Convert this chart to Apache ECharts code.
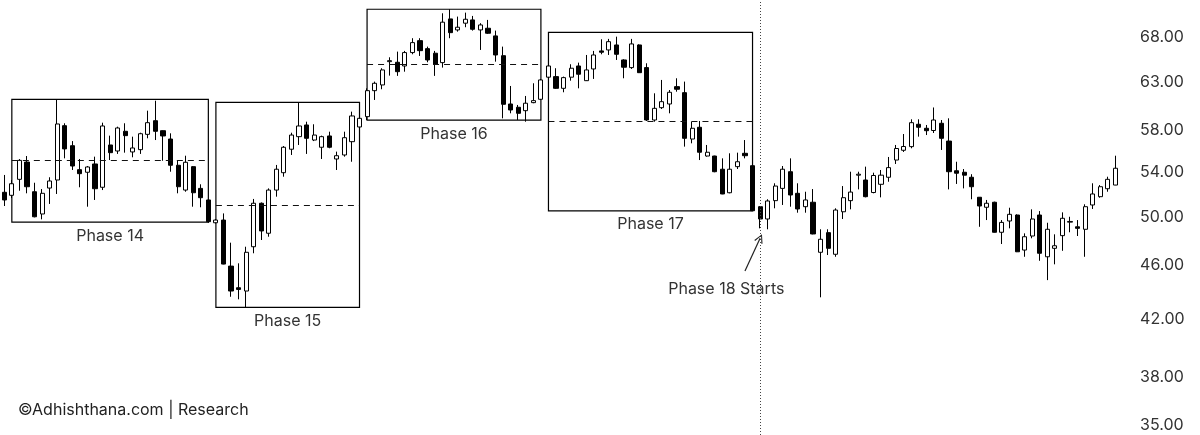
<!DOCTYPE html>
<html><head><meta charset="utf-8">
<script src="https://cdn.jsdelivr.net/npm/echarts@6/dist/echarts.min.js"></script>
<style>html,body{margin:0;padding:0;background:#fff}#c{width:1200px;height:435px}</style>
</head><body><div id="c"></div>
<script>
// OHLC values (one entry per trading session)
const opens = [
52.15,51.88,53.32,54.92,52.20,50.25,52.53,53.26,58.45,56.48,
54.21,53.97,54.74,52.60,56.55,55.97,57.89,55.88,56.10,57.59,
58.95,57.95,57.13,54.62,52.35,54.49,52.50,51.47,49.50,49.73,
45.96,44.29,44.04,47.51,51.18,48.62,52.35,53.93,56.14,57.36,
58.52,57.03,56.33,57.43,55.21,55.59,56.87,58.32,59.36,62.06,
62.67,65.22,65.15,64.74,66.24,67.61,66.69,66.17,65.11,70.17,
68.86,69.66,70.05,68.86,69.06,68.16,65.89,60.66,60.32,59.97,
60.80,61.15,63.51,63.57,62.31,63.51,64.74,63.13,64.41,66.43,
66.54,67.11,65.41,64.56,67.11,64.56,59.02,60.28,60.66,62.49,
61.85,57.13,58.29,55.49,55.49,54.25,52.11,54.49,55.75,54.58,
50.88,49.82,51.41,52.50,54.02,52.06,50.88,51.27,47.06,48.67,
46.90,50.44,51.41,53.70,53.26,52.13,52.87,53.51,55.11,56.04,
56.39,58.59,58.19,57.97,58.69,56.93,54.11,53.97,53.51,51.71,
50.83,51.27,48.70,49.65,50.16,47.24,48.39,50.16,46.70,47.38,
48.42,49.55,49.16,48.95,51.03,51.76,52.47,52.80];
const closes = [
51.47,52.92,55.08,52.65,50.01,52.06,53.17,58.62,56.17,54.55,
53.84,54.46,52.47,58.42,55.81,58.22,57.46,56.26,57.65,58.75,
57.89,57.43,54.62,52.65,54.90,52.11,51.67,49.59,49.73,46.12,
44.04,44.16,47.06,51.18,48.81,52.35,54.25,56.33,57.52,58.42,
57.20,57.52,57.36,56.33,55.52,57.26,59.43,59.19,62.06,62.85,
64.30,65.33,64.11,66.24,67.38,66.46,65.41,64.93,69.78,68.54,
69.18,70.13,68.94,69.45,68.47,65.97,60.63,60.04,59.70,60.74,
61.01,63.21,64.74,62.31,63.46,64.49,63.83,64.30,65.97,66.28,
67.49,66.05,64.60,67.23,64.00,59.02,60.21,60.90,61.89,62.21,
57.20,58.19,55.85,55.85,54.02,52.00,54.25,54.95,55.52,50.53,
49.82,51.38,52.71,54.25,51.91,50.68,51.47,48.56,48.12,47.38,
50.59,51.67,52.17,53.79,51.76,53.67,53.70,54.40,56.21,56.40,
58.75,58.29,57.95,59.02,57.20,54.02,53.88,53.70,52.65,50.94,
51.18,48.70,49.53,50.22,47.10,48.33,49.82,46.98,48.95,47.59,
49.88,49.61,49.03,50.88,52.00,52.65,53.32,54.34];
const lows = [
50.94,51.64,52.29,52.06,49.96,49.79,51.12,52.00,55.27,54.18,
52.60,50.88,51.47,52.35,55.11,55.69,55.81,55.37,55.69,57.20,
57.03,55.04,54.02,52.06,52.20,50.88,50.83,49.50,49.44,46.10,
43.61,43.42,42.82,46.98,48.06,48.33,51.76,53.56,55.59,56.55,
55.69,56.93,55.21,56.23,54.18,55.43,54.95,58.19,59.02,61.08,
62.21,63.68,63.65,64.11,66.05,65.86,65.15,63.65,64.56,67.89,
68.66,69.18,68.78,66.54,68.39,65.22,59.19,59.70,59.02,58.85,
60.74,61.08,63.39,62.24,61.89,63.13,62.31,63.10,63.32,66.05,
65.97,65.41,63.39,64.41,63.98,58.92,58.85,60.14,59.70,61.95,
56.39,56.71,55.11,55.43,53.97,51.98,52.06,54.27,55.27,50.52,
49.03,48.95,50.74,51.03,50.88,50.36,50.36,48.53,43.57,46.84,
46.70,49.82,50.65,52.41,51.70,52.06,51.70,53.10,54.74,55.88,
56.23,57.36,57.52,57.72,56.07,52.41,52.90,52.50,51.53,49.16,
49.73,48.68,47.73,49.03,47.08,46.70,48.20,46.38,44.87,46.10,
47.18,48.70,48.39,46.70,50.68,51.67,52.20,52.79];
const highs = [
53.72,53.26,55.20,55.49,53.01,52.44,53.51,61.14,58.69,56.93,
55.21,54.55,55.43,58.75,57.46,58.35,58.69,57.36,57.75,59.97,
61.00,57.98,57.69,55.04,55.52,54.55,52.87,51.50,49.82,50.30,
47.84,46.18,47.51,51.56,51.25,52.50,54.65,56.45,57.75,60.84,
58.85,58.59,57.46,57.85,55.91,57.85,59.87,59.36,62.31,63.03,
64.49,65.71,66.35,66.43,67.89,67.89,66.92,66.43,70.85,71.34,
70.45,70.93,70.53,69.66,70.05,68.78,66.92,62.56,60.56,61.50,
62.85,63.32,64.86,64.49,63.57,64.93,65.11,65.97,66.43,67.77,
67.81,68.07,65.49,67.81,67.19,65.04,61.78,63.21,62.13,63.39,
63.03,58.85,58.92,56.55,55.52,55.27,55.75,55.81,57.03,54.60,
50.94,51.53,52.96,54.55,55.27,52.96,52.20,52.44,48.95,48.95,
50.74,52.71,54.02,54.02,54.49,53.93,54.18,55.40,56.55,57.62,
59.09,59.09,58.52,60.30,59.02,59.19,54.95,54.27,53.79,51.73,
51.47,51.32,49.73,50.79,50.22,48.61,50.65,50.50,49.50,48.53,
50.39,50.01,49.73,51.09,52.96,52.80,53.56,55.52];
const categories = opens.map((_, i) => 'S' + (i + 1));
const tickLabels = [68, 63, 58, 54, 50, 46, 42, 38, 35];

// Phase boxes (category indexes and price bounds)
const phaseNames = ['Phase 14', 'Phase 15', 'Phase 16', 'Phase 17'];
const phaseStart = [1, 28, 48, 72];
const phaseEnd = [27, 47, 71, 99];
const phaseHigh = [61.14, 60.83, 71.34, 68.58];
const phaseLow = [49.55, 42.82, 59.01, 50.52];
const phaseMid = [55.07, 51.01, 64.92, 58.88];

const phase18Index = 100;
const phase18Label = 'Phase 18 Starts';
const arrowFrom = [98, 45.57];
const arrowTo = [100, 48.20];
const labelAt = [95, 44.19];
const watermark = '©Adhishthana.com | Research';

const FONT = 'Inter, "Noto Sans", sans-serif';
const data = opens.map((o, i) => [o, closes[i], lows[i], highs[i]]);

const midLines = phaseNames.map((n, i) => [
  { coord: [phaseStart[i], phaseMid[i]], lineStyle: { type: [6, 5], color: '#111', width: 1 } },
  { coord: [phaseEnd[i], phaseMid[i]] }
]);
const chevron = 'path://M0,10 L5,0 L10,10 L8.8,10.6 L5,2.4 L1.2,10.6 Z';

const option = {
  animation: false,
  backgroundColor: '#ffffff',
  title: {
    text: watermark, left: 13, top: 397,
    textStyle: { fontSize: 16, fontWeight: 'normal', color: '#222', fontFamily: FONT }
  },
  grid: { left: 0.5, right: 80.9, top: 0, bottom: 0 },
  xAxis: {
    type: 'category', data: categories, boundaryGap: true,
    axisLine: { show: false }, axisTick: { show: false },
    axisLabel: { show: false }, splitLine: { show: false }
  },
  yAxis: {
    type: 'log', logBase: 10, position: 'right',
    min: 34.42, max: 72.48,
    axisLine: { show: false }, axisTick: { show: false }, splitLine: { show: false },
    axisLabel: {
      customValues: tickLabels,
      formatter: v => Number(v).toFixed(2),
      margin: 21, color: '#333', fontSize: 16, fontFamily: FONT
    }
  },
  series: [{
    type: 'candlestick',
    data: data,
    barWidth: 4.6,
    itemStyle: { color: '#ffffff', color0: '#000000', borderColor: '#000000', borderColor0: '#000000', borderWidth: 1 },
    markArea: {
      silent: true,
      itemStyle: { color: 'rgba(0,0,0,0)', borderColor: '#000', borderWidth: 1.2 },
      label: { show: true, position: 'bottom', distance: 5, color: '#333', fontSize: 16, fontFamily: FONT },
      data: phaseNames.map((n, i) => [
        { name: n, coord: [phaseStart[i], phaseHigh[i]] },
        { coord: [phaseEnd[i], phaseLow[i]] }
      ])
    },
    markLine: {
      silent: true,
      symbol: ['none', 'none'],
      label: { show: false },
      lineStyle: { color: '#111', width: 1, type: 'solid' },
      data: midLines.concat([
        { xAxis: phase18Index, lineStyle: { type: [1, 2], color: '#444', width: 1 } },
        [
          { coord: arrowFrom, symbol: 'none', lineStyle: { type: 'solid', color: '#222', width: 1.2 } },
          { coord: arrowTo, symbol: chevron, symbolSize: [9, 9] }
        ]
      ])
    },
    markPoint: {
      silent: true,
      symbol: 'circle', symbolSize: 0,
      label: { show: true, position: 'inside', color: '#333', fontSize: 16, fontFamily: FONT, offset: [4, 0], formatter: phase18Label },
      data: [{ coord: labelAt, value: phase18Label }]
    }
  }]
};
const chart = echarts.init(document.getElementById('c'), null, { renderer: 'canvas' });
chart.setOption(option);
</script>
</body></html>
